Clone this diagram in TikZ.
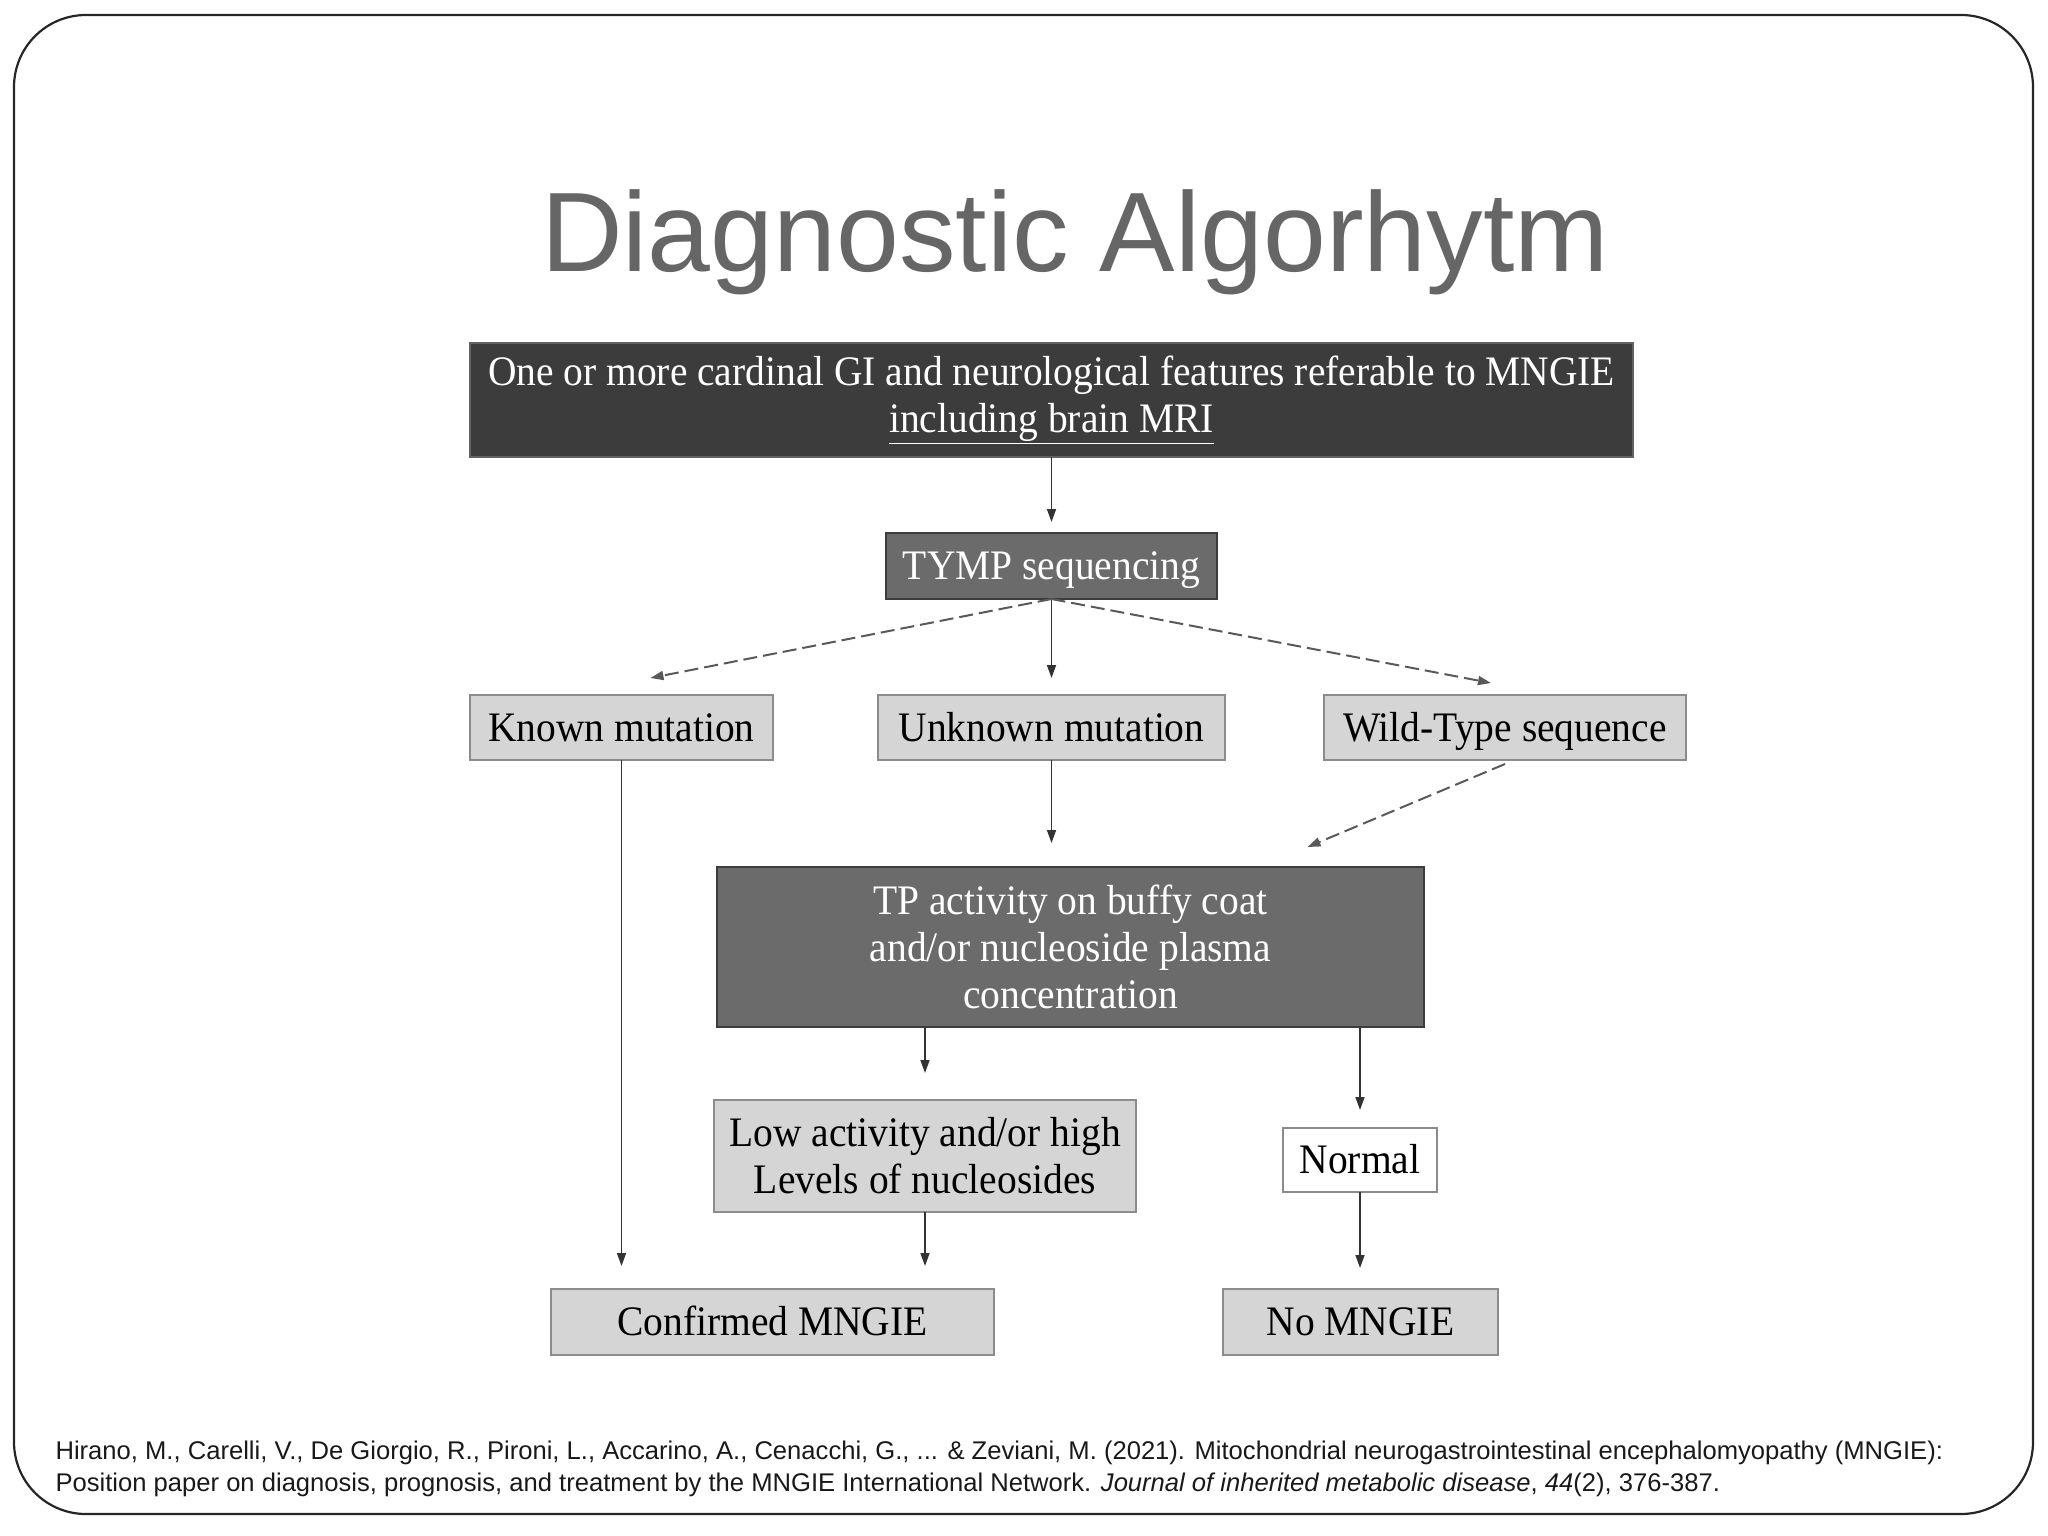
\documentclass[tikz,border=0pt]{standalone}
\usepackage{fontspec}
\setmainfont{Liberation Serif}[FakeStretch=0.94]
\newfontfamily\slidefont{Liberation Sans}
\usepackage{tikz}
\usetikzlibrary{
  arrows.meta,
  positioning
}
\usepackage{xcolor}
\definecolor{darkBox}{rgb}{0.235,0.235,0.235}
\definecolor{midBox}{rgb}{0.42,0.42,0.42}
\definecolor{lightBox}{rgb}{0.835,0.835,0.835}
\definecolor{boxEdge}{rgb}{0.55,0.55,0.55}
\definecolor{lineGray}{rgb}{0.2,0.2,0.2}
\definecolor{dashGray}{rgb}{0.35,0.35,0.35}
\definecolor{titleGray}{rgb}{0.4,0.4,0.4}
\tikzset{
  box/.style={
    line width=2pt,
    inner sep=0pt,
    outer sep=0pt,
    align=center,
    font=\fontsize{42}{47}\selectfont
  },
  onerow/.style={text height=27.5pt, text depth=0pt},
  darkbox/.style={box, fill=darkBox, draw=boxEdge!70!black, text=white},
  midbox/.style={box, fill=midBox, draw=darkBox, text=white},
  lightbox/.style={box, fill=lightBox, draw=boxEdge},
  whitebox/.style={box, fill=white, draw=boxEdge},
  flow/.style={->, draw=lineGray, line width=1.6pt},
  flowdash/.style={->, draw=dashGray, line width=2pt, dash pattern=on 14pt off 6pt},
  frame/.style={draw=black!85, line width=2.2pt, rounded corners=72pt}
}

\begin{document}
\begin{tikzpicture}[x=1pt, y=1pt, >={Triangle[length=13pt,width=9pt]}]
    \useasboundingbox (0,0) rectangle (2048,-1536);
    \draw[frame] (14,-15) rectangle (2033,-1514);

    \node[anchor=base, text=titleGray, font=\slidefont\fontsize{113}{120}\selectfont]
      (title) at (1075,-271) {Diagnostic Algorhytm};

    \node[darkbox, minimum width=1163pt, minimum height=114pt] (top) at (1051.5,-400)
      {One or more cardinal GI and neurological features referable to MNGIE\\
       \underline{including brain MRI}};
    \node[midbox, onerow, minimum width=331pt, minimum height=66pt, below=76pt of top]
      (tymp) {TYMP sequencing};
    \node[lightbox, onerow, minimum width=347pt, minimum height=65pt, below=96pt of tymp]
      (unknown) {Unknown mutation};
    \node[lightbox, onerow, minimum width=303pt, minimum height=65pt, left=105pt of unknown]
      (known) {Known mutation};
    \node[lightbox, onerow, minimum width=362pt, minimum height=65pt, right=99pt of unknown]
      (wild) {Wild-Type sequence};
    \node[midbox, minimum width=707pt, minimum height=160pt, below=107pt of unknown, xshift=19pt]
      (tp) {TP activity on buffy coat\\and/or nucleoside plasma\\concentration};
    \node[lightbox, minimum width=422pt, minimum height=112pt, below=73pt of tp, xshift=-145.5pt]
      (low) {Low activity and/or high\\Levels of nucleosides};
    \node[whitebox, onerow, minimum width=154pt, minimum height=64pt, below=101pt of tp, xshift=289.5pt]
      (normal) {Normal};
    \node[lightbox, onerow, minimum width=443pt, minimum height=66pt, below=77pt of low, xshift=-152.5pt]
      (confirmed) {Confirmed MNGIE};
    \node[lightbox, onerow, minimum width=275pt, minimum height=66pt, right=229pt of confirmed]
      (nomngie) {No MNGIE};

    % connectors
    \draw[flow, shorten >=11pt] (top) -- (tymp);
    \draw[flow, shorten >=17pt] (tymp) -- (unknown);
    \draw[flowdash] (tymp.south) -- ([xshift=29pt,yshift=17pt]known.north);
    \draw[flowdash] (tymp.south) -- ([xshift=-14pt,yshift=12pt]wild.north);
    \draw[flow, shorten >=24pt] (unknown) -- (unknown |- tp.north);
    \draw[flowdash] ([yshift=-4pt]wild.south) -- ([xshift=237pt,yshift=20pt]tp.north);
    \draw[flow, shorten >=23pt] (known) -- (known |- confirmed.north);
    \draw[flow, shorten >=27pt] (low |- tp.south) -- (low);
    \draw[flow, shorten >=18pt] (normal |- tp.south) -- (normal);
    \draw[flow, shorten >=23pt] (low) -- (low |- confirmed.north);
    \draw[flow, shorten >=21pt] (normal) -- (normal |- nomngie.north);

    \node[anchor=base west, font=\slidefont\fontsize{25.6}{32}\selectfont, text=black!90]
      (cite1) at (52,-1459) {Hirano, M., Carelli, V., De Giorgio, R., Pironi, L., Accarino, A., Cenacchi, G., ... \& Zeviani, M. (2021). Mitochondrial neurogastrointestinal encephalomyopathy (MNGIE):};
    \node[anchor=base west, font=\slidefont\fontsize{25.6}{32}\selectfont, text=black!90]
      (cite2) at (52,-1491) {Position paper on diagnosis, prognosis, and treatment by the MNGIE International Network. \textit{Journal of inherited metabolic disease}, \textit{44}(2), 376-387.};
\end{tikzpicture}
\end{document}
